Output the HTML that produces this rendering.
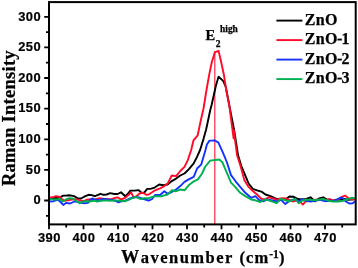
<!DOCTYPE html><html><head><meta charset="utf-8"><title>Raman</title><style>
html,body{margin:0;padding:0;background:#fff}
#w{position:relative;width:358px;height:268px;overflow:hidden;background:#fff}
.t{position:absolute;white-space:nowrap;line-height:1;color:#000}
.yt,.xt{font-family:"Liberation Sans",sans-serif;font-weight:bold;font-size:12.9px;letter-spacing:0.5px;-webkit-text-stroke:0.2px #000}
.yt{text-align:right;width:40px;left:1.2px}
.xt{text-align:center;width:40px}
.s{font-family:"Liberation Serif",serif;font-weight:bold;-webkit-text-stroke:0.25px #000}
</style></head><body><div id="w">
<svg width="358" height="268" viewBox="0 0 358 268" style="position:absolute;left:0;top:0">
<clipPath id="c"><rect x="49" y="2" width="307" height="222"/></clipPath>
<g clip-path="url(#c)" fill="none" stroke-width="1.9" stroke-linejoin="round">
<line x1="214.8" y1="51.5" x2="214.8" y2="224" stroke="#ff2848" stroke-width="1.2"/>
<path d="M49.2,198.2 L53.4,198.2 L59.3,197.8 L63.2,195.6 L66.8,195.5 L70.2,195.3 L73.9,196.2 L78.3,198.5 L81.1,198.5 L85.3,196.2 L88.7,194.8 L91.7,195.1 L94.9,196.2 L100.5,193.8 L103.4,194.8 L106.7,194.5 L110.1,193.1 L114.3,194.0 L117.6,194.0 L121.0,192.3 L125.2,196.2 L127.7,194.0 L130.3,190.6 L134.5,190.6 L138.7,190.1 L142.0,193.1 L144.5,192.3 L147.1,188.9 L150.4,188.9 L154.6,187.7 L155.0,187.3 L159.2,184.5 L163.4,185.3 L167.6,184.5 L171.8,181.1 L176.1,178.6 L180.3,175.5 L184.5,173.5 L188.7,169.3 L193.7,163.4 L197.1,156.7 L200.1,150.0 L203.6,138.6 L206.0,130.0 L207.8,121.8 L210.2,110.2 L211.6,105.0 L215.6,87.0 L216.1,85.0 L218.6,76.6 L223.3,81.1 L225.8,87.0 L228.0,98.4 L231.2,115.3 L234.1,130.0 L238.1,155.3 L241.6,167.0 L244.4,173.4 L248.6,183.5 L252.8,188.9 L257.0,190.3 L262.1,191.9 L265.4,194.5 L270.5,196.1 L276.8,199.0 L281.9,199.5 L286.1,199.0 L289.5,196.5 L293.7,196.8 L297.9,199.0 L302.1,199.5 L306.3,199.0 L310.5,197.3 L314.8,201.2 L319.0,198.5 L323.2,197.3 L327.4,199.8 L331.6,201.2 L335.8,199.8 L340.0,199.5 L344.2,199.0 L348.4,199.8 L356.0,199.0" stroke="#000"/>
<path d="M49.2,197.8 L52.6,197.3 L55.9,196.2 L59.3,196.8 L61.8,199.0 L64.3,200.7 L67.7,200.4 L71.9,199.5 L76.1,199.2 L78.6,199.8 L82.8,201.2 L85.3,200.4 L87.9,199.5 L91.2,199.8 L95.4,199.5 L99.6,198.2 L104.2,199.0 L107.6,199.0 L110.9,199.5 L114.3,198.2 L117.6,197.3 L121.0,199.5 L125.2,197.8 L128.6,194.8 L131.1,192.3 L133.6,197.3 L136.1,196.5 L139.5,193.5 L142.9,192.8 L146.2,194.8 L148.7,194.5 L152.1,192.3 L155.0,190.3 L160.1,188.3 L164.3,186.1 L167.6,183.6 L171.8,175.5 L176.1,176.1 L180.3,171.0 L184.5,166.8 L187.8,160.1 L191.2,150.0 L193.5,140.3 L197.7,135.3 L200.5,121.8 L203.5,108.5 L206.5,90.0 L209.4,73.6 L211.9,61.8 L214.9,52.1 L218.6,50.9 L221.1,61.8 L224.0,75.3 L226.2,90.0 L229.5,106.8 L233.6,138.4 L233.7,130.0 L237.1,155.3 L240.8,167.0 L244.4,180.2 L248.6,186.9 L252.8,191.1 L257.0,194.5 L261.2,198.7 L264.6,199.5 L268.8,197.3 L273.0,198.3 L276.8,199.8 L280.2,198.5 L284.4,198.2 L288.6,199.5 L292.8,201.5 L296.2,200.7 L299.5,201.2 L302.9,204.6 L305.4,201.5 L309.6,200.7 L314.8,199.8 L319.8,199.8 L324.9,200.2 L329.9,199.0 L333.3,200.7 L338.3,199.8 L341.7,196.8 L345.1,195.6 L348.4,198.2 L351.8,199.5 L356.0,199.0" stroke="#ff0a28"/>
<path d="M49.2,201.5 L53.4,201.2 L57.6,199.8 L60.1,201.5 L63.2,204.9 L66.0,202.9 L70.2,203.5 L74.4,201.5 L77.8,201.9 L81.1,202.9 L84.5,203.2 L87.9,202.9 L90.4,199.5 L92.9,198.5 L95.4,199.8 L99.6,200.2 L103.4,199.0 L107.6,199.5 L110.9,199.8 L115.1,200.7 L118.5,202.4 L121.8,201.2 L125.2,200.7 L128.6,199.0 L131.9,197.8 L135.3,197.3 L138.7,197.3 L142.0,198.5 L145.4,199.5 L148.7,200.7 L152.1,199.0 L155.0,195.0 L160.1,195.0 L164.3,191.2 L167.6,193.7 L171.8,192.0 L176.1,189.5 L180.3,186.1 L184.5,181.9 L188.7,179.4 L193.7,176.9 L197.1,168.5 L201.3,164.3 L205.5,150.0 L206.9,144.5 L209.5,140.6 L213.4,140.5 L214.5,140.3 L218.4,142.6 L222.6,151.9 L226.8,162.0 L231.0,175.1 L236.0,181.8 L240.2,186.9 L245.3,192.8 L251.1,197.8 L255.3,196.1 L259.5,200.3 L263.7,201.2 L267.1,199.5 L271.3,200.3 L276.8,201.5 L281.1,199.8 L285.3,204.1 L288.6,201.5 L292.0,199.8 L295.3,199.0 L298.7,201.5 L302.1,199.0 L305.4,200.7 L310.5,201.5 L314.8,200.7 L319.8,199.8 L324.9,201.2 L329.9,200.7 L335.0,200.7 L339.2,198.2 L342.5,197.8 L345.9,201.5 L349.3,203.5 L352.6,203.2 L356.0,200.7" stroke="#1432ff"/>
<path d="M49.2,199.0 L53.4,199.5 L56.8,199.5 L60.1,199.0 L62.6,201.5 L66.0,199.5 L69.4,198.2 L72.7,198.5 L76.1,200.7 L79.5,203.2 L82.8,201.5 L86.2,201.2 L89.5,201.5 L93.7,200.7 L97.1,201.5 L99.6,201.0 L105.0,200.4 L110.1,200.7 L115.1,200.4 L120.2,200.7 L125.2,201.2 L129.4,199.5 L132.8,197.8 L136.1,196.8 L140.3,199.0 L144.5,198.2 L148.7,198.2 L155.0,196.2 L161.8,196.2 L167.6,194.5 L171.8,190.3 L176.1,191.2 L180.3,189.5 L184.5,190.3 L188.7,185.3 L192.9,181.9 L197.9,179.4 L202.1,173.5 L205.0,167.0 L210.0,160.9 L210.0,160.6 L215.1,160.0 L219.3,159.5 L222.6,162.5 L222.6,162.8 L226.8,172.6 L231.0,182.7 L235.2,186.9 L240.2,192.8 L245.3,196.1 L251.1,199.5 L255.3,200.3 L260.4,202.0 L264.6,199.5 L268.8,200.3 L276.8,203.2 L280.2,199.0 L284.4,199.8 L288.6,201.5 L292.8,199.8 L295.3,199.0 L298.7,203.2 L302.1,200.7 L306.3,199.8 L310.5,199.8 L313.1,200.2 L318.2,199.8 L323.2,199.0 L328.3,200.7 L333.3,201.5 L338.3,201.5 L343.4,200.7 L347.6,199.0 L351.8,197.8 L356.0,198.5" stroke="#00b050"/>
</g>
<rect x="49" y="2.1" width="306.7" height="222.3" fill="none" stroke="#000" stroke-width="2"/>
<path d="M44.2,200.5H49M44.2,169.9H49M44.2,139.3H49M44.2,108.7H49M44.2,78.0H49M44.2,47.4H49M44.2,16.8H49M46,215.8H49M46,185.2H49M46,154.6H49M46,124.0H49M46,93.3H49M46,62.7H49M46,32.1H49M49.0,224.4V229.3M83.5,224.4V229.3M118.0,224.4V229.3M152.5,224.4V229.3M187.0,224.4V229.3M221.5,224.4V229.3M256.0,224.4V229.3M290.5,224.4V229.3M325.0,224.4V229.3M66.2,224.4V227.6M100.8,224.4V227.6M135.2,224.4V227.6M169.8,224.4V227.6M204.2,224.4V227.6M238.8,224.4V227.6M273.2,224.4V227.6M307.8,224.4V227.6M342.2,224.4V227.6" stroke="#000" stroke-width="1.8" fill="none"/>
<line x1="276.4" y1="20.6" x2="302.4" y2="20.6" stroke="#000" stroke-width="1.9"/>
<line x1="276.4" y1="40.1" x2="302.4" y2="40.1" stroke="#ff0a28" stroke-width="1.9"/>
<line x1="276.4" y1="59.6" x2="302.4" y2="59.6" stroke="#1432ff" stroke-width="1.9"/>
<line x1="276.4" y1="79.1" x2="302.4" y2="79.1" stroke="#00b050" stroke-width="1.9"/>
</svg>
<div class="t yt" style="top:194.2px">0</div>
<div class="t yt" style="top:163.6px">50</div>
<div class="t yt" style="top:133.0px">100</div>
<div class="t yt" style="top:102.4px">150</div>
<div class="t yt" style="top:71.7px">200</div>
<div class="t yt" style="top:41.1px">250</div>
<div class="t yt" style="top:10.5px">300</div>
<div class="t xt" style="left:29.4px;top:232.2px">390</div>
<div class="t xt" style="left:63.9px;top:232.2px">400</div>
<div class="t xt" style="left:98.4px;top:232.2px">410</div>
<div class="t xt" style="left:132.9px;top:232.2px">420</div>
<div class="t xt" style="left:167.4px;top:232.2px">430</div>
<div class="t xt" style="left:201.9px;top:232.2px">440</div>
<div class="t xt" style="left:236.4px;top:232.2px">450</div>
<div class="t xt" style="left:270.9px;top:232.2px">460</div>
<div class="t xt" style="left:305.4px;top:232.2px">470</div>
<div class="t s" id="xl" style="left:121.1px;top:248.1px;font-size:16.5px;letter-spacing:1.35px"><span style="font-size:18.2px">W</span><span style="letter-spacing:1.5px">avenumber</span><span style="letter-spacing:1.05px;margin-left:0.5px"> (cm<sup style="font-size:11.5px;line-height:0;vertical-align:5.5px;letter-spacing:0px">-1</sup>)</span></div>
<div class="t s" id="yl" style="left:-0.2px;top:185.5px;font-size:18.4px;letter-spacing:0.3px;transform-origin:0 0;transform:rotate(-90deg)">Raman Intensity</div>
<div class="t s lg" style="left:304.8px;top:11.9px;font-size:16px;letter-spacing:0.35px">ZnO</div>
<div class="t s lg" style="left:304.8px;top:31.4px;font-size:16px;letter-spacing:0.35px">ZnO<span style="letter-spacing:-0.8px;margin-left:-0.8px">-1</span></div>
<div class="t s lg" style="left:304.8px;top:50.9px;font-size:16px;letter-spacing:0.35px">ZnO<span style="letter-spacing:-0.8px;margin-left:-0.8px">-2</span></div>
<div class="t s lg" style="left:304.8px;top:70.4px;font-size:16px;letter-spacing:0.35px">ZnO<span style="letter-spacing:-0.8px;margin-left:-0.8px">-3</span></div>
<div class="t s" id="e2" style="left:205.4px;top:27.7px;font-size:14.5px">E<sub style="font-size:9.5px;line-height:0;vertical-align:-7.5px;margin-left:0.7px">2</sub><sup style="font-size:9.4px;line-height:0;vertical-align:7.5px;margin-left:-0.4px">high</sup></div>
</div></body></html>
